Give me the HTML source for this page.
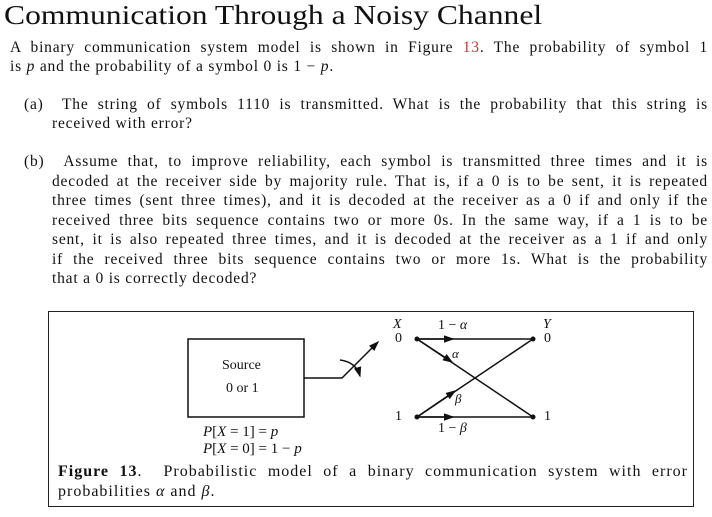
<!DOCTYPE html>
<html><head><meta charset="utf-8"><style>
body{margin:0;width:712px;height:517px;background:#fff;font-family:"Liberation Serif",serif;color:#111;position:relative;overflow:hidden}
.t{position:absolute;white-space:nowrap}
.j{position:absolute;text-align:justify;text-align-last:justify;white-space:nowrap;font-size:15.5px;letter-spacing:0.8px;height:19px;line-height:19px}
.l{position:absolute;white-space:nowrap;font-size:15.5px;letter-spacing:0.8px;line-height:19px}
</style></head><body>
<div class="t" style="left:4px;top:0px;font-size:27px;transform:scaleX(1.17);transform-origin:0 0">Communication Through a Noisy Channel</div>
<div class="j" style="left:10px;top:38px;width:698px">A binary communication system model is shown in Figure <span style="color:#c33">13</span>. The probability of symbol 1</div>
<div class="l" style="left:10px;top:57px">is <i>p</i> and the probability of a symbol 0 is 1 − <i>p</i>.</div>
<div class="j" style="left:24px;top:95px;width:684px">(a) &nbsp;The string of symbols 1110 is transmitted. What is the probability that this string is</div>
<div class="l" style="left:52px;top:114px">received with error?</div>
<div class="j" style="left:24px;top:152px;width:684px">(b) &nbsp;Assume that, to improve reliability, each symbol is transmitted three times and it is</div>
<div class="j" style="left:52px;top:172px;width:656px">decoded at the receiver side by majority rule. That is, if a 0 is to be sent, it is repeated</div>
<div class="j" style="left:52px;top:191px;width:656px">three times (sent three times), and it is decoded at the receiver as a 0 if and only if the</div>
<div class="j" style="left:52px;top:211px;width:656px">received three bits sequence contains two or more 0s. In the same way, if a 1 is to be</div>
<div class="j" style="left:52px;top:230px;width:656px">sent, it is also repeated three times, and it is decoded at the receiver as a 1 if and only</div>
<div class="j" style="left:52px;top:250px;width:656px">if the received three bits sequence contains two or more 1s. What is the probability</div>
<div class="l" style="left:52px;top:269px">that a 0 is correctly decoded?</div>
<div style="position:absolute;left:48px;top:311px;width:644px;height:194px;border:1.5px solid #222"></div>
<svg style="position:absolute;left:0;top:0" width="712" height="517">
<defs><marker id="a" markerWidth="7" markerHeight="5" refX="6" refY="2.5" orient="auto"><path d="M0,0L7,2.5L0,5z" fill="#111"/></marker></defs>
<g stroke="#111" stroke-width="1.5" fill="none">
<rect x="188" y="339" width="116" height="78"/>
<polyline points="304,378 342,378 378,342" marker-end="url(#a)"/>
<path d="M340,360 Q356,362 360,376" marker-end="url(#a)"/>
<line x1="417" y1="339" x2="533" y2="339"/><line x1="417" y1="339" x2="453" y2="339" marker-end="url(#a)"/>
<line x1="417" y1="417" x2="533" y2="417"/><line x1="417" y1="417" x2="453" y2="417" marker-end="url(#a)"/>
<line x1="417" y1="339" x2="533" y2="417"/><line x1="417" y1="339" x2="452" y2="362" marker-end="url(#a)"/>
<line x1="417" y1="417" x2="533" y2="339"/><line x1="417" y1="417" x2="455" y2="391" marker-end="url(#a)"/>
</g>
<g fill="#111"><circle cx="417" cy="339" r="2.5"/><circle cx="533" cy="339" r="2.5"/><circle cx="417" cy="417" r="2.5"/><circle cx="533" cy="417" r="2.5"/></g>
</svg>
<div class="t" style="left:222px;top:358px;font-size:14px">Source</div>
<div class="t" style="left:226px;top:381px;font-size:14px">0 or 1</div>
<div class="t" style="left:393px;top:317px;font-size:14px;font-style:italic">X</div>
<div class="t" style="left:395px;top:331px;font-size:14px">0</div>
<div class="t" style="left:438px;top:318px;font-size:14px">1 − <i>α</i></div>
<div class="t" style="left:543px;top:317px;font-size:14px;font-style:italic">Y</div>
<div class="t" style="left:544px;top:331px;font-size:14px">0</div>
<div class="t" style="left:452px;top:346px;font-size:13px;font-style:italic">α</div>
<div class="t" style="left:455px;top:391px;font-size:13px;font-style:italic">β</div>
<div class="t" style="left:395px;top:409px;font-size:14px">1</div>
<div class="t" style="left:544px;top:409px;font-size:14px">1</div>
<div class="t" style="left:438px;top:421px;font-size:14px">1 − <i>β</i></div>
<div class="t" style="left:203px;top:424px;font-size:15px"><i>P</i>[<i>X</i> = 1] = <i>p</i></div>
<div class="t" style="left:203px;top:441px;font-size:15px"><i>P</i>[<i>X</i> = 0] = 1 − <i>p</i></div>
<div class="j" style="left:58px;top:462px;width:630px;font-size:16px;letter-spacing:1px;line-height:20px;height:20px"><b>Figure 13</b>. &nbsp;Probabilistic model of a binary communication system with error</div>
<div class="l" style="left:58px;top:482px;font-size:16px;letter-spacing:1px;line-height:20px">probabilities <i>α</i> and <i>β</i>.</div>
</body></html>
